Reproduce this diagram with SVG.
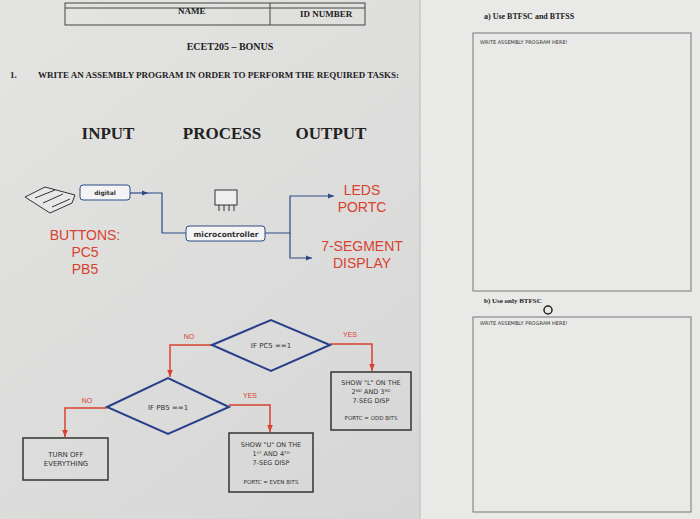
<svg xmlns="http://www.w3.org/2000/svg" width="700" height="519" viewBox="0 0 700 519">
<defs>
<linearGradient id="bg" x1="0" y1="0" x2="1" y2="1"><stop offset="0" stop-color="#e4e4e2"/><stop offset="1" stop-color="#d2d3d3"/></linearGradient>
<marker id="ab" markerWidth="6" markerHeight="6" refX="5" refY="3" orient="auto"><path d="M0,1 L5,3 L0,5z" fill="#2d4a86"/></marker>
<marker id="ar" markerWidth="6" markerHeight="6" refX="5" refY="3" orient="auto"><path d="M0,1 L5,3 L0,5z" fill="#d9412f"/></marker>
</defs>
<style>
.s{font-family:"Liberation Serif",serif;font-weight:bold;fill:#222}
.a{font-family:"DejaVu Sans",sans-serif;fill:#333}
.r{font-family:"Liberation Sans",sans-serif;fill:#d9412f}
.bl{fill:none;stroke:#2d4a86;stroke-width:1.2}
.rl{fill:none;stroke:#d9412f;stroke-width:1.5}
.dm{fill:none;stroke:#2a3f8a;stroke-width:2}
.bx{fill:none;stroke:#333;stroke-width:1.5}
.rb{fill:#f4f4f4;stroke:#2d4a86;stroke-width:1}
</style>
<rect width="700" height="519" fill="url(#bg)"/>
<rect x="420" y="0" width="280" height="519" fill="#e9e9e8"/>
<line x1="420" y1="0" x2="420" y2="519" stroke="#bbb"/>
<g id="header">
<rect x="65" y="3" width="300" height="22" fill="none" stroke="#444"/>
<line x1="270" y1="3" x2="270" y2="25" stroke="#444"/>
<line x1="65" y1="8" x2="365" y2="8" stroke="#444"/>
<text x="178" y="14" class="s" font-size="9">NAME</text>
<text x="300" y="17" class="s" font-size="9">ID NUMBER</text>
<text x="230" y="50" class="s" font-size="10" text-anchor="middle">ECET205 – BONUS</text>
<text x="10" y="78" class="s" font-size="9">1.</text>
<text x="38" y="78" class="s" font-size="9">WRITE AN ASSEMBLY PROGRAM IN ORDER TO PERFORM THE REQUIRED TASKS:</text>
</g>
<g id="right">
<text x="484" y="19" class="s" font-size="8">a)  Use BTFSC and BTFSS</text>
<rect x="473" y="33" width="218" height="258" fill="none" stroke="#777"/>
<text x="480" y="44" class="a" font-size="5">WRITE ASSEMBLY PROGRAM HERE!</text>
<text x="484" y="303" class="s" font-size="7">b)  Use only BTFSC</text>
<circle cx="548" cy="310" r="4" fill="none" stroke="#222" stroke-width="1.5"/>
<rect x="473" y="317" width="218" height="195" fill="none" stroke="#777"/>
<text x="480" y="325" class="a" font-size="5">WRITE ASSEMBLY PROGRAM HERE!</text>
</g>
<g id="titles">
<text x="108" y="139" class="s" font-size="17" text-anchor="middle">INPUT</text>
<text x="222" y="139" class="s" font-size="17" text-anchor="middle">PROCESS</text>
<text x="331" y="139" class="s" font-size="17" text-anchor="middle">OUTPUT</text>
</g>
<g id="buttons">
<path d="M25,197 L45,187 L75,195 L72,203 L50,213 Z" fill="#e8e8e8" stroke="#333"/>
<path d="M35,198 L55,190 M43,203 L63,194 M52,207 L70,199" stroke="#333"/>
<rect x="80" y="185" width="50" height="15" rx="3" class="rb"/>
<text x="105" y="195" class="a" font-size="6" font-weight="bold" text-anchor="middle">digital</text>
<text x="85" y="240" class="r" font-size="14" text-anchor="middle">BUTTONS:</text>
<text x="85" y="257" class="r" font-size="14" text-anchor="middle">PC5</text>
<text x="85" y="274" class="r" font-size="14" text-anchor="middle">PB5</text>
</g>
<g id="mcu">
<rect x="215" y="190" width="22" height="15" fill="#eee" stroke="#333"/>
<path d="M219,205v6M224,205v6M229,205v6M234,205v6" stroke="#333"/>
<rect x="186" y="226" width="79" height="15" rx="3" class="rb"/>
<text x="226" y="237" class="a" font-size="7.5" font-weight="bold" text-anchor="middle">microcontroller</text>
</g>
<g id="outputs">
<text x="362" y="195" class="r" font-size="14" text-anchor="middle">LEDS</text>
<text x="362" y="212" class="r" font-size="14" text-anchor="middle">PORTC</text>
<text x="362" y="251" class="r" font-size="14" text-anchor="middle">7-SEGMENT</text>
<text x="362" y="268" class="r" font-size="14" text-anchor="middle">DISPLAY</text>
</g>
<g id="connectors">
<path d="M130,193 H148" class="bl" marker-end="url(#ab)"/>
<path d="M148,193 H162 V233 H186" class="bl"/>
<path d="M265,233 H290 V196 H334" class="bl" marker-end="url(#ab)"/>
<path d="M290,233 V258 H312" class="bl" marker-end="url(#ab)"/>
<path d="M212,345 H170 V377" class="rl" marker-end="url(#ar)"/>
<path d="M330,344 H372 V371" class="rl" marker-end="url(#ar)"/>
<path d="M107,408 H65 V437" class="rl" marker-end="url(#ar)"/>
<path d="M229,405 H270 V432" class="rl" marker-end="url(#ar)"/>
<text x="189" y="339" class="r" font-size="7" text-anchor="middle">NO</text>
<text x="350" y="337" class="r" font-size="7" text-anchor="middle">YES</text>
<text x="87" y="403" class="r" font-size="7" text-anchor="middle">NO</text>
<text x="250" y="398" class="r" font-size="7" text-anchor="middle">YES</text>
</g>
<g id="d1">
<path d="M212,345 L271,320 L330,345 L271,371 Z" class="dm"/>
<text x="271" y="348" class="a" font-size="7" text-anchor="middle" fill="#2a3f8a">IF PC5 ==1</text>
</g>
<g id="d2">
<path d="M107,407 L168,378 L229,407 L168,434 Z" class="dm"/>
<text x="168" y="410" class="a" font-size="7" text-anchor="middle">IF PB5 ==1</text>
</g>
<g id="boxL">
<rect x="331" y="372" width="80" height="58" class="bx"/>
<text x="371" y="385" class="a" font-size="6.5" text-anchor="middle">SHOW "L" ON THE</text>
<text x="371" y="394" class="a" font-size="6.5" text-anchor="middle">2ᴺᴰ AND 3ᴿᴰ</text>
<text x="371" y="403" class="a" font-size="6.5" text-anchor="middle">7-SEG DISP</text>
<text x="371" y="420" class="a" font-size="5.5" text-anchor="middle">PORTC = ODD BITS</text>
</g>
<g id="boxOff">
<rect x="23" y="438" width="85" height="42" class="bx"/>
<text x="66" y="457" class="a" font-size="7" text-anchor="middle">TURN OFF</text>
<text x="66" y="466" class="a" font-size="7" text-anchor="middle">EVERYTHING</text>
</g>
<g id="boxU">
<rect x="229" y="433" width="84" height="59" class="bx"/>
<text x="271" y="447" class="a" font-size="6.5" text-anchor="middle">SHOW "U" ON THE</text>
<text x="271" y="456" class="a" font-size="6.5" text-anchor="middle">1ˢᵀ AND 4ᵀᴴ</text>
<text x="271" y="465" class="a" font-size="6.5" text-anchor="middle">7-SEG DISP</text>
<text x="271" y="484" class="a" font-size="5.5" text-anchor="middle">PORTC = EVEN BITS</text>
</g>
</svg>
